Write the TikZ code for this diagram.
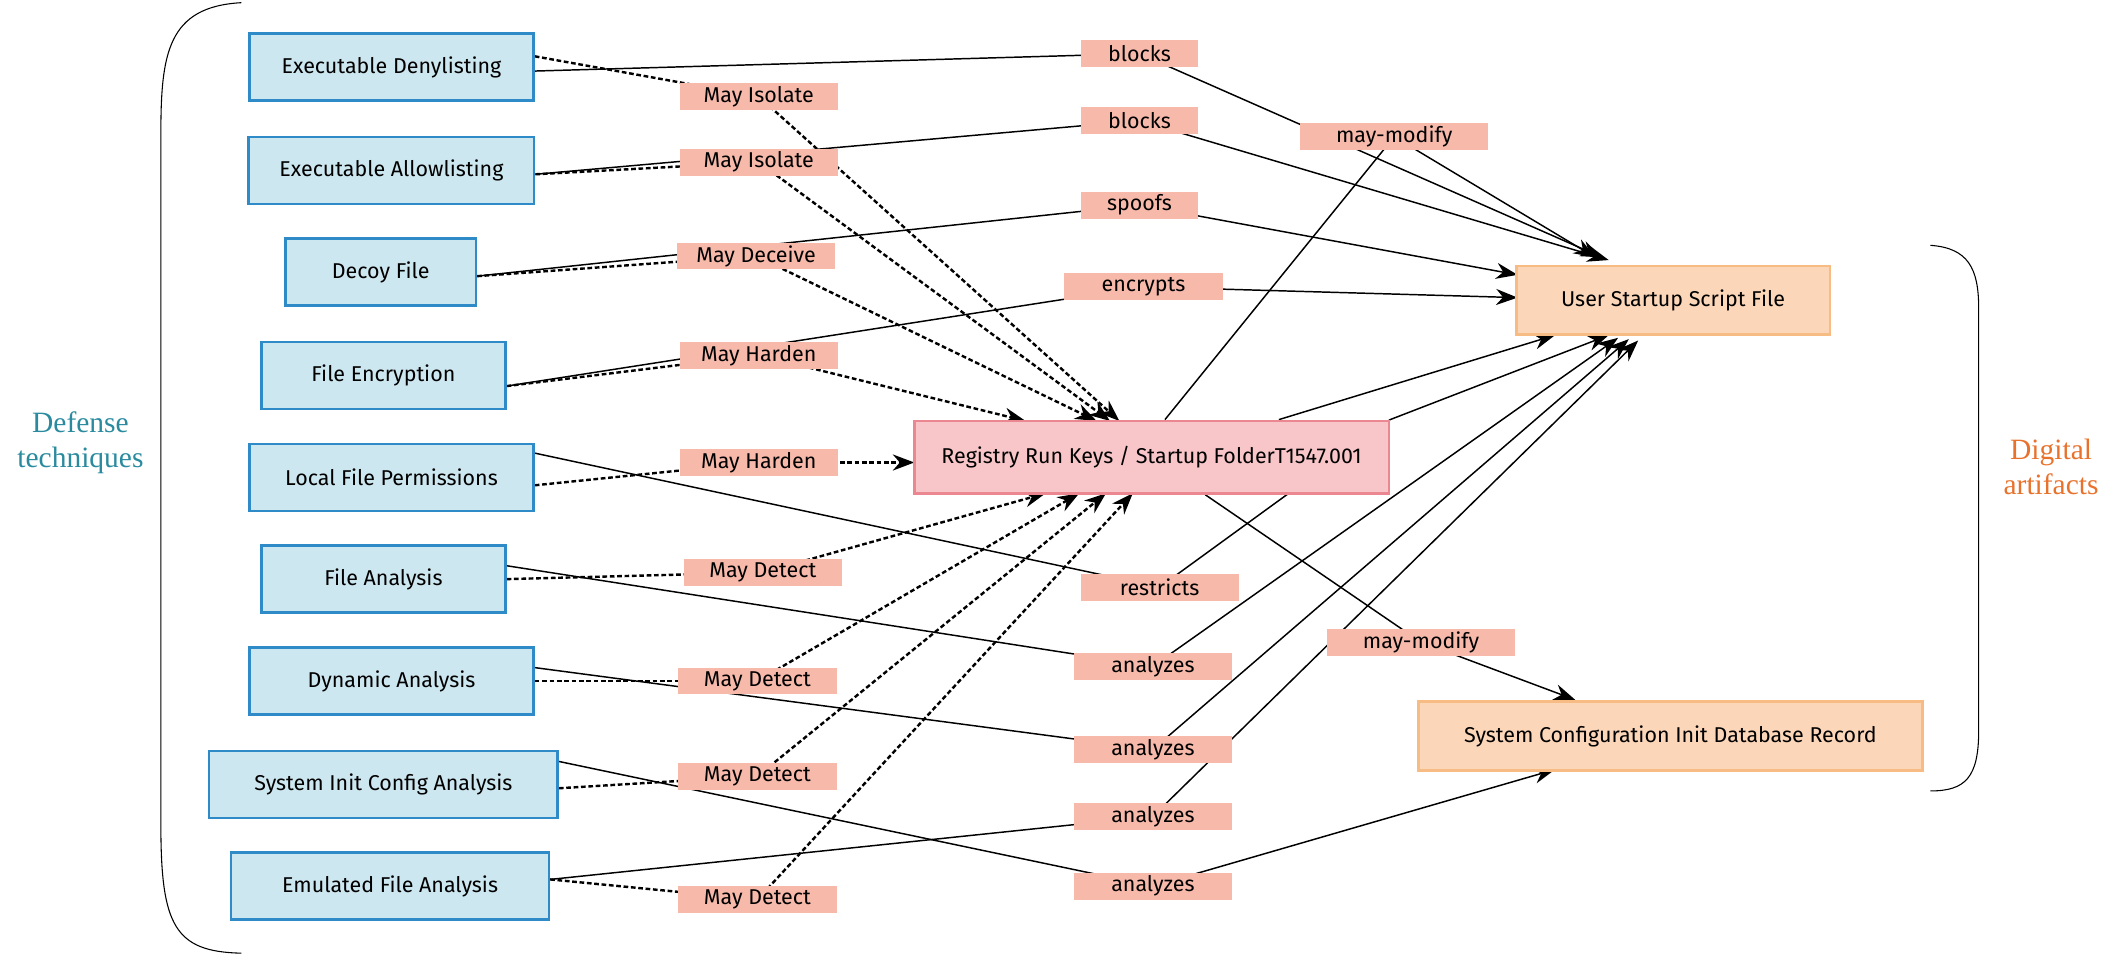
\documentclass[tikz,border=0pt]{standalone}
\usepackage{fontspec}
\setmainfont{Fira Sans}
\newfontfamily\serifx{Liberation Serif}
\usetikzlibrary{arrows.meta,backgrounds}
\definecolor{bfill}{HTML}{CDE7F0}
\definecolor{bdraw}{HTML}{2E8BC8}
\definecolor{lfill}{HTML}{F6B9AA}
\definecolor{rfill}{HTML}{F8C6C9}
\definecolor{rdraw}{HTML}{EA8790}
\definecolor{afill}{HTML}{FCD6B8}
\definecolor{adraw}{HTML}{F6BC84}
\definecolor{teal1}{HTML}{2A8A9E}
\definecolor{orng}{HTML}{E8722C}
\begin{document}
\begin{tikzpicture}[x=1pt,y=-1pt,
 font=\fontsize{16}{18}\selectfont,
 defbox/.style={draw=bdraw,line width=1.8pt,fill=bfill,minimum height=50pt,inner sep=0pt},
 lbl/.style={fill=lfill,inner sep=1.5pt,minimum height=20pt},
 art/.style={draw=adraw,line width=2pt,fill=afill,minimum height=51pt},
 sol/.style={line width=1.1pt},
 arr/.style={line width=1.1pt,-{Stealth[length=16pt,width=12pt]}},
 dsh/.style={line width=1.8pt,dash pattern=on 3.5pt off 2pt,-{Stealth[length=16pt,width=12pt]}},
 dshl/.style={line width=1.8pt,dash pattern=on 3.5pt off 2pt}]
\useasboundingbox (0,0) rectangle (1568,713);
\node[defbox,minimum width=212pt] (d1) at (292,50) {Executable Denylisting};
\node[defbox,minimum width=213pt] (d2) at (292,127) {Executable Allowlisting};
\node[defbox,minimum width=142pt] (d3) at (284,203) {Decoy File};
\node[defbox,minimum width=182pt] (d4) at (286,280) {File Encryption};
\node[defbox,minimum width=212pt] (d5) at (292,356) {Local File Permissions};
\node[defbox,minimum width=182pt] (d6) at (286,432) {File Analysis};
\node[defbox,minimum width=212pt] (d7) at (292,508) {Dynamic Analysis};
\node[defbox,minimum width=260pt] (d8) at (286,585) {System Init Config Analysis};
\node[defbox,minimum width=237pt] (d9) at (291,661) {Emulated File Analysis};
\node[draw=rdraw,line width=2pt,fill=rfill,minimum width=354pt,minimum height=54pt] (reg) at (859,341) {Registry Run Keys / Startup FolderT1547.001};
\node[art,minimum width=234pt] (user) at (1248,224) {User Startup Script File};
\node[art,minimum width=376pt] (sys) at (1246,549) {System Configuration Init Database Record};
\node[lbl,minimum width=88pt] (b1) at (850,40) {blocks};
\node[lbl,minimum width=88pt] (b2) at (850,90) {blocks};
\node[lbl,minimum width=140pt] (mm1) at (1040,102) {may-modify};
\node[lbl,minimum width=88pt] (sp) at (850,153) {spoofs};
\node[lbl,minimum width=118pt] (en) at (853,214) {encrypts};
\node[lbl,minimum width=118pt] (i1) at (566,72) {May Isolate};
\node[lbl,minimum width=118pt] (i2) at (566,121) {May Isolate};
\node[lbl,minimum width=118pt] (dc) at (564,191) {May Deceive};
\node[lbl,minimum width=118pt] (h1) at (566,265) {May Harden};
\node[lbl,minimum width=118pt] (h2) at (566,345) {May Harden};
\node[lbl,minimum width=118pt] (m1) at (569,427) {May Detect};
\node[lbl,minimum width=118pt] (rs) at (865,438) {restricts};
\node[lbl,minimum width=118pt] (a1) at (860,497) {analyzes};
\node[lbl,minimum width=140pt] (mm2) at (1060,479) {may-modify};
\node[lbl,minimum width=118pt] (m2) at (565,508) {May Detect};
\node[lbl,minimum width=118pt] (a2) at (860,559) {analyzes};
\node[lbl,minimum width=118pt] (m3) at (565,579) {May Detect};
\node[lbl,minimum width=118pt] (a3) at (860,609) {analyzes};
\node[lbl,minimum width=118pt] (m4) at (565,671) {May Detect};
\node[lbl,minimum width=118pt] (a4) at (860,661) {analyzes};
\coordinate (u1) at (1195,192); \coordinate (u2) at (1200,194); \coordinate (u3) at (1190,192);
\coordinate (u4) at (1132,205); \coordinate (u5) at (1132,222); \coordinate (u6) at (1160,250);
\coordinate (u7) at (1200,250); \coordinate (u8) at (1207,252); \coordinate (u9) at (1215,253);
\coordinate (u10) at (1222,254); \coordinate (s1) at (1160,574); \coordinate (s2) at (1175,522);
\begin{scope}[on background layer]
\draw[sol] ([yshift=-3pt]d1.east) -- (b1.center); \draw[arr] (b1.center) -- (u1);
\draw[sol] ([yshift=-3pt]d2.east) -- (b2.center); \draw[arr] (b2.center) -- (u2);
\draw[sol] ([xshift=10pt]reg.north) -- (mm1.center); \draw[arr] (mm1.center) -- (u3);
\draw[sol] ([yshift=-3pt]d3.east) -- (sp.center); \draw[arr] (sp.center) -- (u4);
\draw[sol] ([yshift=-8pt]d4.east) -- (en.center); \draw[arr] (en.center) -- (u5);
\draw[arr] ([xshift=95pt]reg.north) -- (u6);
\draw[sol] ([yshift=18pt]d5.east) -- (rs.center); \draw[arr] (rs.center) -- (reg.north east) -- (u7);
\draw[sol] ([yshift=10pt]d6.east) -- (a1.center); \draw[arr] (a1.center) -- (u8);
\draw[sol] ([yshift=10pt]d7.east) -- (a2.center); \draw[arr] (a2.center) -- (u9);
\draw[sol] ([yshift=5pt]d9.east) -- (a3.center); \draw[arr] (a3.center) -- (u10);
\draw[sol] ([yshift=17pt]d8.east) -- (a4.center); \draw[arr] (a4.center) -- (s1);
\draw[sol] ([xshift=40pt]reg.south) -- (mm2.center); \draw[arr] (mm2.center) -- (s2);
\draw[dshl] ([yshift=8pt]d1.east) -- (i1.center); \draw[dsh] (i1.center) -- (835,314);
\draw[dshl] ([yshift=-3pt]d2.east) -- (i2.center); \draw[dsh] (i2.center) -- (828,314);
\draw[dshl] ([yshift=-3pt]d3.east) -- (dc.center); \draw[dsh] (dc.center) -- (818,314);
\draw[dshl] ([yshift=-8pt]d4.east) -- (h1.center); \draw[dsh] (h1.center) -- (765,314);
\draw[dshl] ([yshift=-6pt]d5.east) -- (h2.center); \draw[dsh] (h2.center) -- (682,345);
\draw[dshl] (d6.east) -- (m1.center); \draw[dsh] (m1.center) -- (780,368);
\draw[dshl] (d7.east) -- (m2.center); \draw[dsh] (m2.center) -- (805,368);
\draw[dshl] ([yshift=-3pt]d8.east) -- (m3.center); \draw[dsh] (m3.center) -- (825,368);
\draw[dshl] ([yshift=5pt]d9.east) -- (m4.center); \draw[dsh] (m4.center) -- (845,368);
\end{scope}
\draw[line width=0.8pt] (180,2) .. controls (125,5) and (120,40) .. (120,100) -- (120,615) .. controls (120,690) and (130,710) .. (180,711);
\draw[line width=0.8pt] (1440,183) .. controls (1468,185) and (1476,200) .. (1476,230) -- (1476,545) .. controls (1476,580) and (1466,590) .. (1440,590);
\node[font=\serifx\fontsize{22}{26}\selectfont,text=teal1,align=center] (lt) at (60,330) {Defense\\techniques};
\node[font=\serifx\fontsize{22}{26}\selectfont,text=orng,align=center] (rt) at (1530,348) {Digital\\artifacts};
\end{tikzpicture}
\end{document}
